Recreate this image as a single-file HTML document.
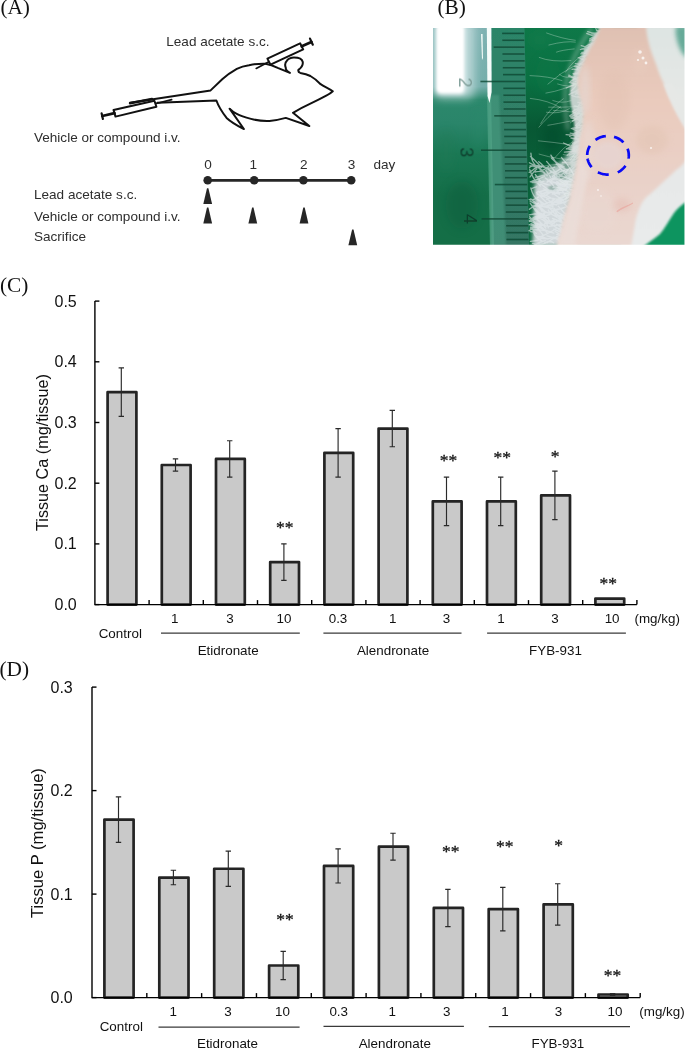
<!DOCTYPE html>
<html><head><meta charset="utf-8"><title>Figure</title>
<style>html,body{margin:0;padding:0;background:#fff}svg{display:block}</style>
</head><body>
<svg width="685" height="1049" viewBox="0 0 685 1049">
<rect width="685" height="1049" fill="#fff"/>
<defs>
<clipPath id="pc"><rect x="433" y="28" width="252" height="217"/></clipPath>
<filter id="b1" x="-30%" y="-30%" width="160%" height="160%"><feGaussianBlur stdDeviation="1"/></filter>
<filter id="b2" x="-30%" y="-30%" width="160%" height="160%"><feGaussianBlur stdDeviation="2"/></filter>
<filter id="b3" x="-30%" y="-30%" width="160%" height="160%"><feGaussianBlur stdDeviation="3"/></filter>
<filter id="b5" x="-30%" y="-30%" width="160%" height="160%"><feGaussianBlur stdDeviation="5"/></filter>
<filter id="b8" x="-30%" y="-30%" width="160%" height="160%"><feGaussianBlur stdDeviation="8"/></filter>
<filter id="b05" x="-30%" y="-30%" width="160%" height="160%"><feGaussianBlur stdDeviation="0.5"/></filter>
<filter id="b07" x="-30%" y="-30%" width="160%" height="160%"><feGaussianBlur stdDeviation="0.7"/></filter>
<filter id="b15" x="-30%" y="-30%" width="160%" height="160%"><feGaussianBlur stdDeviation="1.5"/></filter>
<linearGradient id="gbase" x1="0" y1="0" x2="0" y2="1"><stop offset="0" stop-color="#0e7848"/><stop offset="0.25" stop-color="#0a7042"/><stop offset="0.46" stop-color="#085834"/><stop offset="1" stop-color="#0a6a40"/></linearGradient>
<linearGradient id="gleft" x1="0" y1="0" x2="0" y2="1"><stop offset="0" stop-color="#7fb2b2"/><stop offset="0.27" stop-color="#74aeaa"/><stop offset="0.33" stop-color="#2c886c"/><stop offset="0.44" stop-color="#2a856a"/><stop offset="0.58" stop-color="#1a7854"/><stop offset="0.77" stop-color="#146e48"/><stop offset="1" stop-color="#146e46"/></linearGradient>
<linearGradient id="gstrip" x1="0" y1="0" x2="0" y2="1"><stop offset="0" stop-color="#2c8568"/><stop offset="0.5" stop-color="#317e66"/><stop offset="1" stop-color="#347664"/></linearGradient>
<linearGradient id="tis" x1="0" y1="0" x2="0" y2="1"><stop offset="0" stop-color="#dfc0b2"/><stop offset="0.35" stop-color="#eacbbd"/><stop offset="0.7" stop-color="#e9d1c8"/><stop offset="1" stop-color="#ead8d1"/></linearGradient>
<linearGradient id="rfur" x1="0" y1="0" x2="0" y2="1"><stop offset="0" stop-color="#dde4e2"/><stop offset="0.35" stop-color="#e6e8e6"/><stop offset="0.7" stop-color="#e7e9e9"/><stop offset="1" stop-color="#e9ebeb"/></linearGradient>
</defs>
<g clip-path="url(#pc)">
<rect x="433" y="28" width="252" height="217" fill="url(#gbase)"/>
<ellipse cx="548" cy="75" rx="12" ry="18" fill="#0c7846" opacity="0.4" filter="url(#b5)"/>
<ellipse cx="552" cy="138" rx="10" ry="14" fill="#064a2c" opacity="0.5" filter="url(#b5)"/>
<ellipse cx="540" cy="40" rx="10" ry="8" fill="#158050" opacity="0.4" filter="url(#b5)"/>
<rect x="433" y="28" width="60" height="217" fill="url(#gleft)"/>
<ellipse cx="462" cy="205" rx="16" ry="24" fill="#0c5a3a" opacity="0.4" filter="url(#b5)"/>
<ellipse cx="446" cy="150" rx="8" ry="20" fill="#207a56" opacity="0.4" filter="url(#b5)"/>
<ellipse cx="478" cy="130" rx="6" ry="20" fill="#2c8a6c" opacity="0.4" filter="url(#b5)"/>
<path d="M491.5,28 L524.5,28 L529,245 L491.5,245 Z" fill="url(#gstrip)" filter="url(#b07)"/>
<path d="M489,95 L499,95 L506,245 L491,245 Z" fill="#4a9c82" opacity="0.6" filter="url(#b1)"/>
<path d="M487,95 L491,95 L494,245 L490,245 Z" fill="#58a88c" opacity="0.6" filter="url(#b07)"/>
<rect x="434" y="20" width="40" height="78" rx="6" fill="#c8dfe0" opacity="0.85" filter="url(#b5)"/>
<rect x="436.5" y="24" width="28" height="70" rx="4" fill="#ffffff" filter="url(#b2)"/>
<rect x="437.5" y="26" width="25.5" height="65.5" rx="3" fill="#ffffff" filter="url(#b1)"/>
<path d="M486.8,26 L491.2,26 L491.6,92 L489.5,103 L487.5,96 Z" fill="#f6fcfa" filter="url(#b05)"/>
<path d="M481,34 L482.6,34 L483,58 L482,60 Z" fill="#eef8f5" filter="url(#b05)"/>
<rect x="502.1" y="32.61" width="22.0" height="1.6" fill="#0f4632" opacity="0.78" filter="url(#b07)"/>
<rect x="502.3" y="39.48" width="22.0" height="1.6" fill="#0f4632" opacity="0.78" filter="url(#b07)"/>
<rect x="493.7" y="46.35" width="30.7" height="1.6" fill="#0f4632" opacity="0.78" filter="url(#b07)"/>
<rect x="502.5" y="53.22" width="22.0" height="1.6" fill="#0f4632" opacity="0.78" filter="url(#b07)"/>
<rect x="502.7" y="60.09" width="22.0" height="1.6" fill="#0f4632" opacity="0.78" filter="url(#b07)"/>
<rect x="502.8" y="66.96" width="22.0" height="1.6" fill="#0f4632" opacity="0.78" filter="url(#b07)"/>
<rect x="503.0" y="73.83" width="22.0" height="1.6" fill="#0f4632" opacity="0.78" filter="url(#b07)"/>
<rect x="480.4" y="80.70" width="44.7" height="1.6" fill="#0f4632" opacity="0.78" filter="url(#b07)"/>
<rect x="503.3" y="87.57" width="22.0" height="1.6" fill="#0f4632" opacity="0.78" filter="url(#b07)"/>
<rect x="503.4" y="94.44" width="22.0" height="1.6" fill="#0f4632" opacity="0.78" filter="url(#b07)"/>
<rect x="503.5" y="101.31" width="22.0" height="1.6" fill="#0f4632" opacity="0.78" filter="url(#b07)"/>
<rect x="503.7" y="108.18" width="22.0" height="1.6" fill="#0f4632" opacity="0.78" filter="url(#b07)"/>
<rect x="494.2" y="115.05" width="31.6" height="1.6" fill="#0f4632" opacity="0.78" filter="url(#b07)"/>
<rect x="504.0" y="121.92" width="22.0" height="1.6" fill="#0f4632" opacity="0.78" filter="url(#b07)"/>
<rect x="504.1" y="128.79" width="22.0" height="1.6" fill="#0f4632" opacity="0.78" filter="url(#b07)"/>
<rect x="504.2" y="135.66" width="22.0" height="1.6" fill="#0f4632" opacity="0.78" filter="url(#b07)"/>
<rect x="504.4" y="142.53" width="22.0" height="1.6" fill="#0f4632" opacity="0.78" filter="url(#b07)"/>
<rect x="481.0" y="149.40" width="45.5" height="1.6" fill="#0f4632" opacity="0.78" filter="url(#b07)"/>
<rect x="504.7" y="156.27" width="22.0" height="1.6" fill="#0f4632" opacity="0.78" filter="url(#b07)"/>
<rect x="504.8" y="163.14" width="22.0" height="1.6" fill="#0f4632" opacity="0.78" filter="url(#b07)"/>
<rect x="505.0" y="170.01" width="22.0" height="1.6" fill="#0f4632" opacity="0.78" filter="url(#b07)"/>
<rect x="505.1" y="176.88" width="22.0" height="1.6" fill="#0f4632" opacity="0.78" filter="url(#b07)"/>
<rect x="494.8" y="183.75" width="32.4" height="1.6" fill="#0f4632" opacity="0.78" filter="url(#b07)"/>
<rect x="505.4" y="190.62" width="22.0" height="1.6" fill="#0f4632" opacity="0.78" filter="url(#b07)"/>
<rect x="505.5" y="197.49" width="22.0" height="1.6" fill="#0f4632" opacity="0.78" filter="url(#b07)"/>
<rect x="505.7" y="204.36" width="22.0" height="1.6" fill="#0f4632" opacity="0.78" filter="url(#b07)"/>
<rect x="505.8" y="211.23" width="22.0" height="1.6" fill="#0f4632" opacity="0.78" filter="url(#b07)"/>
<rect x="481.6" y="218.10" width="46.4" height="1.6" fill="#0f4632" opacity="0.78" filter="url(#b07)"/>
<rect x="506.1" y="224.97" width="22.0" height="1.6" fill="#0f4632" opacity="0.78" filter="url(#b07)"/>
<rect x="506.2" y="231.84" width="22.0" height="1.6" fill="#0f4632" opacity="0.78" filter="url(#b07)"/>
<rect x="506.4" y="238.71" width="22.0" height="1.6" fill="#0f4632" opacity="0.78" filter="url(#b07)"/>
<text transform="translate(459,77.5) rotate(90)" font-family="Liberation Sans, Arial, sans-serif" font-size="18" fill="#7a9a94" opacity="0.9" filter="url(#b05)">2</text>
<text transform="translate(460.5,147.3) rotate(90)" font-family="Liberation Sans, Arial, sans-serif" font-size="18" fill="#0c3a2a" opacity="0.9" filter="url(#b05)">3</text>
<text transform="translate(464,214) rotate(90)" font-family="Liberation Sans, Arial, sans-serif" font-size="18" fill="#0c3a2a" opacity="0.9" filter="url(#b05)">4</text>
<path d="M536,181 C542,171 550,168 558,164 C566,159 573,150 578,137 L592,137 L580,245 L533,245 C535,232 533,216 536,202 C534,194 534,187 536,181 Z" fill="#d3dadc" opacity="0.86" filter="url(#b2)"/>
<path d="M536,186 C546,176 560,176 570,180 L562,245 L534,245 Z" fill="#d0d7da" filter="url(#b2)"/>
<ellipse cx="562" cy="176" rx="6" ry="3.5" fill="#2f6e52" opacity="0.5" filter="url(#b1)"/>
<ellipse cx="553" cy="188" rx="5" ry="2.5" fill="#2f6e52" opacity="0.35" filter="url(#b1)"/>
<ellipse cx="567" cy="166" rx="4" ry="3.5" fill="#2f6e52" opacity="0.45" filter="url(#b1)"/>
<ellipse cx="546" cy="174" rx="5" ry="2.5" fill="#2f6e52" opacity="0.3" filter="url(#b1)"/>
<ellipse cx="538" cy="166" rx="5" ry="3" fill="#2f6e52" opacity="0.4" filter="url(#b1)"/>
<path d="M600,28 C592,38 584,50 577,64 C570,80 568,96 572,110 C575,124 576,136 570,154 L592,150 L602,60 L614,28 Z" fill="#d8dcdb" opacity="0.9" filter="url(#b1)"/>
<path d="M592,28 C580,44 570,62 566,84 C564,100 566,116 568,130" stroke="#e8f0ea" stroke-width="4" fill="none" opacity="0.3" filter="url(#b2)"/>
<path d="M578.0,80.4Q573.5,77.8 568.6,76.2M598.4,36.4Q594.7,35.0 594.4,36.8M584.1,97.6Q581.6,98.8 578.2,96.5M583.4,122.7Q577.9,118.5 569.5,115.9M589.8,49.7Q586.0,52.0 584.8,53.7M581.6,133.3Q574.7,129.7 571.3,128.5M580.9,140.3Q576.5,141.1 572.4,143.4M580.0,159.8Q575.9,162.8 571.7,162.7M579.3,148.7Q571.1,146.9 563.5,143.0M591.0,51.0Q590.1,52.2 587.1,52.9M575.5,173.7Q569.0,176.1 561.8,178.8M579.8,167.6Q572.8,171.1 569.3,172.9M584.5,134.7Q576.9,134.6 570.2,133.2M600.7,31.2Q596.7,31.5 596.2,29.6M591.7,47.1Q587.5,49.3 586.7,51.9M586.3,118.0Q580.5,122.3 576.5,127.3M582.1,86.3Q574.4,83.3 569.3,82.4M584.4,64.9Q577.8,64.0 575.3,63.7M580.9,88.1Q575.0,91.8 569.1,94.6M579.1,139.6Q574.4,145.4 566.6,148.8M580.8,92.1Q576.5,91.5 575.7,94.4M584.5,60.7Q579.3,57.8 578.2,57.7M594.5,42.6Q593.5,42.6 591.7,45.4M582.7,68.1Q580.6,68.9 575.8,65.7M583.3,104.5Q580.0,102.5 577.9,102.4M576.2,165.7Q574.3,166.7 572.2,170.6M582.0,117.0Q580.3,122.0 575.7,125.4M582.3,69.7Q580.1,72.4 577.7,73.0M578.1,81.4Q576.0,87.3 571.1,90.9M579.4,163.9Q574.6,163.1 571.0,166.0M599.4,32.0Q598.8,33.1 594.6,34.6M576.8,184.2Q566.5,183.3 558.4,184.5M585.7,58.6Q583.9,61.9 579.4,65.3M583.4,135.7Q582.1,138.2 577.6,138.5M579.9,152.3Q576.1,155.8 573.7,157.0M572.6,190.2Q569.9,193.3 565.3,199.1M591.4,46.7Q585.7,51.4 582.9,53.5M573.7,191.6Q566.9,191.3 563.2,194.8M573.9,190.0Q569.4,196.5 565.4,200.0M576.5,165.3Q571.0,165.2 567.6,164.5M582.7,69.4Q580.3,71.2 579.0,73.3M585.8,123.8Q582.5,127.5 579.3,130.9M581.7,113.8Q575.1,113.8 572.5,111.4M589.1,54.5Q583.7,56.0 579.7,57.4M585.9,119.0Q581.9,119.0 580.0,120.9M579.6,156.1Q576.2,159.3 569.5,163.1M583.0,128.7Q578.1,131.5 573.5,134.0M585.7,106.4Q583.3,109.6 577.3,114.7M586.6,119.7Q578.5,117.3 573.4,115.3M596.0,38.4Q595.2,41.0 592.2,40.4M591.9,51.4Q589.0,51.9 583.1,48.6M587.5,62.5Q585.8,64.6 580.2,64.0M589.9,52.6Q584.6,51.8 581.8,52.4M578.1,147.5Q570.2,147.6 566.3,149.0M582.7,130.7Q582.1,135.0 579.1,135.6M593.8,43.1Q591.2,42.8 590.5,45.5M584.4,97.2Q576.8,98.0 571.9,95.5M585.1,121.6Q583.1,120.0 579.5,119.0M599.5,38.4Q594.5,42.5 592.8,43.6M599.5,37.6Q596.2,39.2 592.5,37.4M580.8,70.8Q574.9,68.7 572.1,69.3M597.4,35.3Q595.5,34.2 591.5,34.8M582.2,110.0Q577.5,106.1 574.7,106.0M580.6,149.4Q578.4,148.5 572.8,150.8M577.9,164.0Q573.0,167.9 568.9,171.8M583.5,141.6Q580.8,145.2 576.4,147.7M581.0,94.2Q576.8,94.3 576.0,92.5M581.6,68.7Q581.2,71.0 577.9,72.0M580.6,73.2Q575.9,73.5 573.8,74.3M585.2,70.0Q578.1,73.7 573.1,73.6M579.8,77.9Q577.5,78.0 575.4,78.1M586.8,59.4Q583.1,58.7 582.7,58.8M597.1,34.0Q594.6,33.6 591.4,33.0M580.8,152.3Q575.4,156.6 570.8,162.2M571.0,192.4Q562.0,197.0 556.6,199.0M576.5,176.5Q569.2,181.4 564.7,186.1M585.5,110.7Q580.9,116.5 575.5,119.2M582.2,140.8Q577.1,138.4 575.0,137.1M596.6,43.1Q593.4,45.4 589.2,46.3M581.2,108.3Q575.8,112.0 570.4,115.4M579.5,136.7Q571.1,134.8 566.1,134.7M578.9,148.7Q574.6,153.9 570.4,160.0M584.5,106.6Q579.2,107.3 572.9,111.4M590.2,50.2Q585.5,47.9 580.4,49.5M597.0,36.7Q593.9,38.0 589.4,40.9M583.8,112.7Q580.8,109.8 574.7,109.4M575.1,191.3Q573.1,193.7 568.6,192.3M582.0,101.8Q578.7,104.8 577.6,107.1M592.0,49.2Q587.9,47.4 581.2,45.6M577.1,175.7Q573.9,177.0 570.9,182.2M602.2,28.5Q597.4,27.6 595.5,28.0M581.9,79.0Q581.4,78.8 578.2,81.5M575.8,182.4Q566.5,181.2 558.3,180.8M572.7,194.8Q566.2,193.6 561.6,196.0M596.9,42.6Q593.9,44.0 593.0,47.2M582.4,111.8Q581.2,116.5 576.9,118.6M584.5,131.9Q578.0,132.3 569.6,136.3M580.1,149.2Q572.7,150.4 567.1,155.2M572.8,182.5Q565.9,183.4 560.6,182.3M571.8,190.9Q564.6,190.0 557.0,189.8M588.0,53.6Q586.1,54.6 584.1,57.8M577.9,179.0Q571.0,175.5 566.7,175.3M577.6,83.5Q574.5,84.6 570.9,82.5M579.6,152.2Q574.0,152.9 569.4,154.8M596.9,36.9Q591.8,35.7 586.7,33.4M575.4,171.5Q570.4,170.6 566.1,170.1M575.5,187.1Q565.9,183.8 560.1,178.9M575.6,177.2Q569.4,175.5 564.0,170.4M579.8,165.2Q569.5,162.4 562.4,162.5M585.0,113.6Q579.3,118.5 572.5,121.2M583.5,103.1Q580.3,106.3 579.3,106.2M581.1,134.4Q578.3,134.7 574.3,133.4M592.3,44.2Q588.1,44.4 584.9,46.8M580.8,126.8Q578.5,128.0 572.4,128.1M576.0,175.1Q573.4,175.2 567.1,173.7M578.2,77.6Q574.0,78.6 570.4,81.6M583.6,138.1Q579.4,136.0 576.5,134.5M579.7,140.7Q573.7,143.4 567.6,148.5M572.3,189.8Q562.9,189.4 555.6,186.8M583.5,75.4Q578.2,74.0 575.1,73.3M583.8,137.8Q579.1,139.9 576.7,138.2M589.6,49.3Q589.0,50.9 585.2,49.5M582.8,149.3Q573.4,150.8 566.5,148.7M577.7,151.6Q570.5,151.2 564.4,152.1M587.0,53.9Q585.7,52.4 580.8,53.9M572.0,188.9Q569.0,192.1 563.5,195.9M598.8,35.1Q595.5,36.9 594.6,39.8M573.4,177.4Q570.1,179.1 564.6,184.5M597.8,33.0Q593.7,33.9 587.7,31.6M578.4,83.0Q571.3,86.4 566.2,88.0M579.0,79.1Q578.9,80.9 575.3,81.6M571.8,185.3Q569.0,187.9 562.6,187.0M579.9,91.1Q577.3,90.7 571.4,92.9M579.9,161.2Q574.0,165.1 567.2,170.4M579.3,79.6Q572.9,78.4 568.8,75.1M581.5,67.3Q578.7,69.9 577.2,68.6M578.6,175.1Q572.7,173.2 569.9,171.4M580.5,145.4Q576.8,146.5 572.2,146.2M581.8,151.9Q576.8,148.8 569.2,147.4M583.6,120.9Q576.3,118.5 571.0,118.0M592.8,51.2Q588.1,53.0 584.3,50.9M582.5,111.2Q578.6,112.4 570.7,116.9M585.1,105.9Q578.8,110.0 576.2,115.7M592.3,45.4Q588.6,46.8 581.5,49.2M576.5,172.1Q574.5,173.3 569.0,177.6M584.0,125.9Q578.8,124.8 576.4,126.1M583.8,68.6Q577.1,66.8 574.2,66.4M579.7,140.0Q576.5,139.2 570.9,138.0M596.0,37.1Q593.3,36.4 589.6,39.0M591.0,53.0Q586.6,54.4 583.8,52.2" stroke="#dde3e1" stroke-width="1.3" fill="none" opacity="0.62" stroke-linecap="round" filter="url(#b05)"/>
<path d="M569.4,108.6Q560.8,114.5 546.5,112.3M570.9,60.6Q551.2,62.3 539.3,57.5M572.7,141.6Q563.3,147.1 554.6,157.9M560.4,106.7Q546.4,117.9 538.9,127.2M571.1,100.6Q562.1,104.0 552.8,100.5M563.3,98.8Q549.6,108.2 540.7,123.5M588.3,161.8Q579.2,157.3 563.2,154.5M587.1,115.6Q572.6,110.8 553.6,110.5M572.1,145.0Q553.0,142.1 538.3,140.8M575.5,84.9Q568.4,87.6 557.7,84.0M561.2,108.1Q548.5,100.2 530.3,98.4M578.0,106.5Q562.6,107.5 548.6,107.2M572.8,120.6Q556.5,123.9 547.9,125.3M574.7,65.6Q560.9,72.3 547.9,84.1M574.2,48.9Q562.1,50.0 556.5,52.1M575.3,40.3Q562.8,38.9 546.6,33.0M575.3,42.1Q565.7,40.6 548.9,45.0M585.7,164.5Q570.6,177.9 560.3,183.7M574.8,159.4Q559.2,160.2 539.1,154.1M562.0,80.6Q549.1,76.3 530.0,75.6M584.5,53.7Q572.6,61.1 565.5,72.2M575.2,76.5Q564.6,79.0 559.5,74.5M580.4,151.4Q569.6,157.1 564.9,162.2M579.1,81.8Q563.1,90.5 545.9,93.1M563.1,164.1Q550.9,164.2 533.9,168.0M589.7,110.1Q579.5,113.9 570.3,122.9" stroke="#d8eae0" stroke-width="0.9" fill="none" opacity="0.38" stroke-linecap="round"/>
<path d="M567.2,169.9Q560.2,167.1 551.5,158.4M560.6,219.1Q554.7,211.6 554.4,208.4M561.9,200.6Q552.8,202.2 548.1,207.0M563.4,167.8Q557.5,165.1 556.2,164.2M545.4,212.7Q540.0,207.2 533.1,202.1M541.7,240.9Q535.3,237.7 533.7,232.7M572.6,228.6Q564.1,225.5 561.4,220.8M559.6,194.0Q554.1,192.8 543.4,188.8M546.4,238.3Q541.6,236.0 537.9,236.9M538.5,228.3Q537.0,225.6 530.4,227.2M544.4,214.6Q538.7,212.8 529.3,214.9M549.0,190.0Q546.7,193.1 541.1,193.6M536.3,233.6Q533.1,229.4 530.5,228.5M540.4,184.6Q538.2,183.7 532.9,180.6M571.5,222.9Q565.3,223.9 559.9,221.4M558.0,187.2Q549.1,194.0 543.5,196.1M536.6,186.8Q535.2,186.8 530.9,188.9M573.0,192.3Q568.7,195.9 562.8,197.3M563.9,244.3Q558.3,248.9 550.2,249.3M554.4,224.0Q545.8,220.6 540.6,215.8M539.3,238.9Q534.2,237.2 533.9,230.4M550.5,177.3Q549.3,174.7 545.8,170.4M565.3,224.9Q560.0,226.5 556.4,224.3M570.4,237.3Q568.8,241.7 562.2,240.7M540.5,182.5Q540.0,180.3 535.3,174.5M562.6,232.0Q553.1,225.0 548.5,222.9M567.8,182.4Q559.1,178.8 556.1,178.2M547.9,223.3Q544.9,220.0 536.4,216.8M571.8,215.5Q567.4,215.6 563.9,212.5M550.6,222.4Q546.7,215.0 538.6,212.5M570.4,179.6Q569.0,179.9 564.4,174.4M536.2,205.3Q532.7,206.4 529.4,209.3M570.9,186.8Q560.3,182.3 553.2,175.3M556.9,174.8Q553.5,169.3 546.6,161.4M569.1,216.2Q562.4,216.2 557.0,211.4M539.6,237.1Q535.0,236.8 533.3,231.7M557.0,196.3Q548.8,190.3 541.0,183.9M567.7,226.2Q559.0,220.3 552.5,218.5M571.4,219.0Q564.4,214.2 558.2,206.2M560.3,176.1Q552.1,177.2 547.1,182.0M548.7,222.3Q539.6,213.7 534.7,208.2M549.7,207.8Q543.4,208.2 540.7,202.8M566.6,174.1Q559.1,168.8 552.9,157.6M569.4,224.7Q564.9,217.6 558.8,215.4M544.7,197.1Q542.5,196.6 536.8,193.9M557.0,216.6Q552.7,210.8 547.1,206.1M567.1,238.6Q561.6,237.5 553.2,237.3M545.6,223.8Q540.1,227.2 530.4,228.5M562.9,202.3Q554.3,201.8 550.6,202.2M568.9,223.1Q561.6,217.8 555.3,213.1M562.1,198.7Q552.5,203.8 546.7,207.0M568.7,197.1Q559.7,201.4 556.2,205.1M542.8,228.5Q536.4,226.8 529.2,224.6M566.1,207.0Q558.2,209.2 550.1,212.4M575.8,182.8Q569.3,177.1 559.6,176.0M577.3,194.4Q573.1,189.1 570.1,189.5M553.6,199.6Q544.2,194.0 537.7,191.7M567.1,241.2Q563.0,235.7 555.2,231.5M544.9,176.3Q537.4,179.5 530.3,181.8M545.5,243.1Q540.9,245.1 532.5,243.3M555.7,189.5Q552.4,182.8 545.2,177.9M571.7,187.4Q565.9,181.6 561.0,179.6M536.1,223.7Q532.7,219.7 529.6,216.6M562.8,218.7Q559.1,219.2 551.2,224.9M570.8,238.5Q566.2,232.4 557.7,224.7M536.6,166.9Q530.7,165.2 529.5,167.8M545.8,228.1Q543.7,225.3 536.8,218.9M543.1,237.3Q539.1,241.0 530.3,241.3M571.2,181.8Q564.0,179.9 553.8,178.8M573.1,210.4Q566.3,206.8 563.8,203.2M538.5,203.4Q534.5,204.4 530.0,201.1M536.3,233.3Q535.3,231.7 530.3,231.6M553.6,242.8Q549.9,240.1 544.5,242.9M561.6,220.6Q555.3,215.6 543.1,210.5M556.4,237.8Q552.9,237.4 548.0,239.0M572.2,195.3Q566.6,192.3 557.8,192.7M554.3,199.8Q545.6,204.3 539.3,204.8M553.0,206.3Q550.0,206.0 541.4,203.9M569.3,192.5Q564.5,190.0 558.7,186.0M568.9,169.2Q560.9,170.2 552.4,176.6M548.6,166.5Q544.5,169.9 539.2,171.4M569.1,238.8Q561.6,239.8 552.6,238.4M561.0,220.5Q555.3,222.4 550.1,221.1M540.3,180.5Q538.6,182.4 532.0,182.5M551.5,231.8Q540.6,229.5 532.6,229.6M553.7,191.5Q549.3,188.9 539.7,191.7M559.8,169.2Q555.7,173.1 550.6,172.0M554.8,167.1Q550.7,169.6 541.4,166.2M556.0,199.0Q549.5,197.0 546.5,199.2M536.7,166.4Q531.3,162.0 530.9,153.2M541.4,167.4Q534.1,159.3 530.5,156.6M568.5,223.1Q556.2,225.5 548.8,226.3M565.8,202.8Q560.0,198.0 548.7,190.5M536.5,167.2Q531.7,171.1 529.2,172.4M543.0,234.9Q537.9,229.3 534.3,222.8M554.4,220.2Q548.8,222.4 544.8,222.9M562.4,199.4Q558.6,202.8 549.5,202.8M559.8,189.4Q557.3,193.7 552.3,194.1M549.9,214.5Q540.3,216.8 529.4,221.5M554.0,237.0Q548.0,240.0 540.8,238.2M569.9,188.7Q566.2,186.9 563.3,184.1M570.3,237.0Q568.1,240.6 562.2,239.8M560.0,187.9Q551.6,193.2 540.9,193.6M550.6,172.8Q541.2,176.4 535.4,177.1M575.1,184.7Q566.7,183.6 558.7,186.0M546.7,226.1Q539.8,225.0 529.2,220.7M545.8,212.4Q537.8,217.1 530.0,220.8M543.9,181.4Q537.9,182.4 533.5,182.6M552.9,207.4Q553.1,202.5 547.2,199.0M540.5,216.6Q534.4,210.0 530.2,203.1M536.9,168.7Q533.8,171.4 530.0,177.0M568.7,200.1Q560.3,205.2 548.0,204.8M546.7,169.0Q540.2,162.7 538.7,161.7M559.4,235.7Q555.6,236.6 546.9,242.9M561.1,197.8Q555.5,200.7 552.8,202.8M562.9,242.5Q554.6,237.1 546.9,235.8M576.6,245.3Q572.0,239.8 570.4,236.1M573.9,238.4Q570.1,231.5 562.8,222.1M563.2,244.8Q561.7,244.3 557.1,238.5M564.4,189.9Q554.1,190.5 548.5,193.3M546.8,175.9Q539.9,168.7 536.2,165.7M564.5,167.0Q554.9,163.6 550.9,155.1M545.3,240.7Q537.0,242.5 529.3,249.0M575.0,233.4Q566.0,232.9 558.9,228.5M556.1,216.3Q549.5,214.4 548.3,210.0M559.2,177.6Q550.4,169.8 542.6,166.1M547.4,233.2Q542.8,227.7 538.3,224.3M573.9,175.1Q570.0,167.3 561.4,157.4M544.9,204.2Q538.2,199.9 535.1,197.2M577.6,245.8Q569.7,240.1 564.4,229.6M538.4,224.1Q535.6,226.5 529.0,230.7M541.9,166.2Q535.2,166.9 529.4,162.8M545.2,211.7Q543.2,209.6 537.9,204.9M544.3,172.3Q539.6,170.8 535.0,172.0M544.7,215.0Q535.6,215.0 530.2,220.3M566.8,198.6Q563.4,190.3 556.3,183.9M571.4,235.2Q569.9,228.7 563.6,222.4M572.6,187.3Q566.8,187.0 562.6,190.8M551.6,213.6Q547.3,212.9 543.7,212.1M541.1,223.2Q536.6,226.1 529.6,230.5M567.6,170.9Q558.8,176.1 550.2,181.2M558.3,209.0Q553.1,209.3 551.2,213.4M540.3,186.0Q532.6,179.1 529.8,169.7M544.2,167.4Q538.3,164.3 530.0,165.9M572.5,223.4Q569.6,220.1 566.8,216.9M547.7,175.8Q543.6,172.9 538.4,165.8M542.2,211.8Q539.0,204.7 530.7,198.9M553.7,233.2Q549.2,231.9 539.5,227.3M550.2,185.2Q547.1,185.0 538.2,181.2M574.3,231.2Q568.7,225.8 562.9,214.9M575.2,185.9Q567.5,186.1 561.3,186.0M538.9,200.6Q532.8,197.1 530.9,187.9M568.6,241.0Q562.9,245.7 552.5,245.9M537.4,217.3Q533.7,220.3 529.5,218.2M562.1,186.0Q557.6,182.3 547.6,181.1M548.8,217.8Q546.7,217.6 539.2,217.2M547.3,203.3Q539.6,195.5 536.5,192.2M548.3,198.5Q541.0,195.2 538.7,191.3M571.3,214.8Q561.5,216.3 555.3,215.3M555.4,209.8Q546.2,206.1 539.4,205.4M545.3,207.0Q535.7,205.6 532.0,206.0M572.2,185.1Q563.2,186.2 556.8,181.4M548.4,227.8Q547.6,223.3 542.4,219.5M538.6,197.0Q532.3,201.0 529.2,199.5M567.0,178.4Q562.4,176.2 555.6,172.7M571.7,231.7Q565.7,234.6 556.7,234.4M556.0,228.8Q545.7,235.1 540.0,236.9M536.2,227.3Q534.0,225.0 530.9,223.7M568.9,235.8Q561.1,232.2 553.8,229.1M566.4,189.4Q559.0,187.5 553.0,187.7" stroke="#e6ecee" stroke-width="1.3" fill="none" opacity="0.6" stroke-linecap="round" filter="url(#b05)"/>
<path d="M636,22 L692,22 L692,250 L620,250 C624,225 628,210 636,196 C647,186 660,176 670,164 L678,150 L678,128 C669,112 661,95 655,80 C649,65 643,48 639,36 Z" fill="url(#rfur)" filter="url(#b1)"/>
<path d="M601,26 L646,26 C647,40 651,52 655.6,63 C658,70 660,76 663,82 C666,90 668,96 670.7,101 C673,107 676,112 678,116 L686,130 L686,160 C682,166 679,168 676,170 C670,176 665,180 661,184 C656,189 650,194 646,197.6 C642,202 640,206 638.5,211 C636,217 635,222 634.7,226 L631,247 L557,247 C558,240 559,237 561,233 C562,226 563.5,220 565,214 C567,207 569,201 570.7,195 C572,188 573.5,182 574.5,176 C576,169 577,163 578,157 C579,150 580,144 580,138 C582,131 583,125 583,119 C584,112 583,106 581.6,101 C579,94 578,88 577.8,82 C578,75 580,69 583.5,63 C586,56 589,50 593,44 C596,38 598,33 601,26 Z" fill="url(#tis)" filter="url(#b15)"/>
<ellipse cx="614" cy="100" rx="16" ry="30" fill="#e2c2b2" opacity="0.4" filter="url(#b3)"/>
<ellipse cx="598" cy="212" rx="18" ry="22" fill="#e9d8d2" opacity="0.5" filter="url(#b3)"/>
<ellipse cx="622" cy="205" rx="9" ry="7" fill="#e3b5ac" opacity="0.4" filter="url(#b3)"/>
<ellipse cx="640" cy="62" rx="8" ry="14" fill="#e8ccbe" opacity="0.4" filter="url(#b3)"/>
<ellipse cx="652" cy="140" rx="16" ry="14" fill="#e2c4b2" opacity="0.5" filter="url(#b3)"/>
<ellipse cx="588" cy="150" rx="7" ry="30" fill="#e8dad5" opacity="0.6" filter="url(#b3)"/>
<ellipse cx="585" cy="90" rx="5" ry="25" fill="#e4dad6" opacity="0.6" filter="url(#b3)"/>
<path d="M580,150 C577,170 572,195 566,215 C563,228 560,238 558,246 L575,246 C578,225 584,200 588,175 Z" fill="#ebe0dc" opacity="0.7" filter="url(#b2)"/>
<circle cx="640" cy="52" r="1.8" fill="#fff" opacity="0.75" filter="url(#b05)"/>
<circle cx="643" cy="58" r="1.5" fill="#fff" opacity="0.75" filter="url(#b05)"/>
<circle cx="646" cy="63" r="1.4" fill="#fff" opacity="0.75" filter="url(#b05)"/>
<circle cx="638" cy="60" r="1.1" fill="#fff" opacity="0.75" filter="url(#b05)"/>
<circle cx="651" cy="148" r="1.1" fill="#fff" opacity="0.75" filter="url(#b05)"/>
<circle cx="598" cy="190" r="0.9" fill="#fff" opacity="0.75" filter="url(#b05)"/>
<circle cx="601" cy="196" r="0.8" fill="#fff" opacity="0.75" filter="url(#b05)"/>
<path d="M617,211 C622,207 628,206 633,203 C628,206.5 622,208 617,212 Z" stroke="#ea9f98" stroke-width="0.8" fill="#ea9f98" opacity="0.6" filter="url(#b05)"/>
<ellipse cx="608" cy="155.5" rx="15" ry="14" fill="#e6d5d3" opacity="0.75" filter="url(#b2)"/>
<path d="M686,128 C676,112 670,100 664,84 L672,84 L686,110 Z" fill="#e6e8e6" filter="url(#b1)"/>
<path d="M686,202 C681,205 677,209 674,213 C669,220 665,228 660,234 C654,239 649,242 643,247 L686,247 Z" fill="#0c945e" filter="url(#b1)"/>
<path d="M676,26 L688,26 L688,58 C683,56 680,50 678,44 C676,38 675,32 676,26 Z" fill="#4a9c86" opacity="0.8" filter="url(#b2)"/>
<polyline points="595.48,139.89 596.40,139.28 597.35,138.72 598.33,138.21 599.34,137.75 600.38,137.34 601.43,136.99 602.51,136.68 603.60,136.44 604.71,136.24 605.83,136.11" fill="none" stroke="#0a0af5" stroke-width="2.7"/>
<polyline points="614.08,136.84 615.15,137.18 616.19,137.56 617.22,138.00 618.21,138.49 619.18,139.02 620.11,139.61 621.01,140.24 621.86,140.91 622.68,141.63 623.46,142.39" fill="none" stroke="#0a0af5" stroke-width="2.7"/>
<polyline points="627.55,148.70 627.89,149.66 628.18,150.63 628.42,151.62 628.60,152.61 628.72,153.62 628.79,154.63 628.80,155.64 628.75,156.65 628.64,157.65 628.48,158.65" fill="none" stroke="#0a0af5" stroke-width="2.7"/>
<polyline points="625.44,165.81 624.85,166.62 624.21,167.39 623.53,168.14 622.81,168.85 622.05,169.53 621.26,170.17 620.43,170.77 619.57,171.34 618.68,171.86 617.77,172.34" fill="none" stroke="#0a0af5" stroke-width="2.7"/>
<polyline points="608.73,174.59 607.60,174.60 606.48,174.55 605.36,174.44 604.25,174.28 603.14,174.07 602.06,173.80 600.99,173.47 599.94,173.09 598.91,172.66 597.92,172.18" fill="none" stroke="#0a0af5" stroke-width="2.7"/>
<polyline points="591.61,167.18 591.00,166.43 590.44,165.64 589.91,164.83 589.43,164.00 589.00,163.15 588.61,162.28 588.26,161.39 587.97,160.49 587.72,159.58 587.52,158.65" fill="none" stroke="#0a0af5" stroke-width="2.7"/>
<polyline points="587.20,154.96 587.25,154.02 587.34,153.08 587.48,152.15 587.67,151.22 587.91,150.30 588.20,149.40 588.53,148.51 588.91,147.64 589.34,146.78 589.81,145.94" fill="none" stroke="#0a0af5" stroke-width="2.7"/>
</g>
<rect x="684.5" y="27" width="1" height="219" fill="#fff"/>
<rect x="432" y="244.75" width="254" height="1" fill="#fff"/>
<text x="0.4" y="14.4" font-family="Liberation Serif, Times New Roman, serif" font-size="21.3" fill="#111">(A)</text>
<text x="437.5" y="14.3" font-family="Liberation Serif, Times New Roman, serif" font-size="21.3" fill="#111">(B)</text>
<text x="0" y="292" font-family="Liberation Serif, Times New Roman, serif" font-size="21.3" fill="#111">(C)</text>
<text x="-0.5" y="676" font-family="Liberation Serif, Times New Roman, serif" font-size="21.3" fill="#111">(D)</text>
<text x="166.3" y="46.3" font-family="Liberation Sans, Arial, sans-serif" font-size="13.55" fill="#2e2e2e">Lead acetate s.c.</text>
<text x="34" y="142" font-family="Liberation Sans, Arial, sans-serif" font-size="13.55" fill="#2e2e2e">Vehicle or compound i.v.</text>
<text x="34" y="199" font-family="Liberation Sans, Arial, sans-serif" font-size="13.55" fill="#2e2e2e">Lead acetate s.c.</text>
<text x="34" y="221" font-family="Liberation Sans, Arial, sans-serif" font-size="13.55" fill="#2e2e2e">Vehicle or compound i.v.</text>
<text x="34" y="240.5" font-family="Liberation Sans, Arial, sans-serif" font-size="13.55" fill="#2e2e2e">Sacrifice</text>
<path d="M130,102.7 L210.6,90.4 L222.5,79 C228,74 232,71.5 236.8,68.8 C241,66.8 245,65.8 249,65.2 C255,64 260,63.5 265.4,63.7 C270,64.5 274,66 277.7,67.8 L289.9,72.9 C287,71 285.5,69.5 285.8,67.8 C284.5,64.5 285,62.5 286.9,60.7 C288.5,58.5 291,57.6 294,57.6 C298.5,57.6 302,59 302.7,61.8 C303.3,64.8 301.3,67.6 298.4,69.9 C298,71.5 299,72.5 300.3,72.9 C304,73.5 307.5,74.5 310.4,76 C314,78 317.5,81 320.6,84.2 C324,86.5 329,88.8 332.8,91.3 C331,93 329,94.3 326.7,95.4 C321,98.5 316,101 310.4,103.6 C304,106.5 298.5,109.5 293,112.8 L309.3,126 L285.8,117.9 C280,119.5 275,120.5 269.5,121 C263,121.3 257,120.5 251,118.9 C246,117.5 241,116 236.8,113.8 C234,112.5 231.5,110.8 229.6,108.7 L243.9,129 C237,125.5 231,122 226.6,117.9 C222,112 218.5,106.5 216.4,100.5 L157.4,102.7" fill="none" stroke="#111" stroke-width="2" stroke-linejoin="round" stroke-linecap="round"/>
<g fill="#fff" stroke="#111" stroke-width="2" stroke-linejoin="round" stroke-linecap="round">
<path d="M268.9,61.7 L256.2,68.4" fill="none" stroke-width="1.7"/>
<path d="M267.4,58.6 L300.1,43.3 L303.2,49.4 L270.5,64.7 Z"/>
<path d="M301.8,46.3 L311.4,41.9" fill="none" stroke-width="2.8"/>
<path d="M310,38.6 L312.8,44.7" fill="none" stroke-width="2.2"/>
<path d="M155.4,103.7 L171.7,99.6" fill="none" stroke-width="1.6"/>
<path d="M130,103.3 L152,99" fill="none" stroke-width="2.4"/>
<path d="M113.5,109.9 L154.4,100.7 L156.4,106.8 L115.5,116.6 Z"/>
<path d="M114.5,113.2 L102.3,116" fill="none" stroke-width="2.8"/>
<path d="M101.6,113.3 L102.9,119" fill="none" stroke-width="2.2"/>
</g>
<line x1="207.7" y1="180.3" x2="351.2" y2="180.3" stroke="#262626" stroke-width="2.8"/>
<circle cx="207.7" cy="180.3" r="4.3" fill="#262626"/>
<text x="208.0" y="169" text-anchor="middle" font-family="Liberation Sans, Arial, sans-serif" font-size="13.6" fill="#2e2e2e">0</text>
<circle cx="254.2" cy="180.3" r="4.3" fill="#262626"/>
<text x="253.2" y="169" text-anchor="middle" font-family="Liberation Sans, Arial, sans-serif" font-size="13.6" fill="#2e2e2e">1</text>
<circle cx="303.4" cy="180.3" r="4.3" fill="#262626"/>
<text x="303.7" y="169" text-anchor="middle" font-family="Liberation Sans, Arial, sans-serif" font-size="13.6" fill="#2e2e2e">2</text>
<circle cx="351.2" cy="180.3" r="4.3" fill="#262626"/>
<text x="351.5" y="169" text-anchor="middle" font-family="Liberation Sans, Arial, sans-serif" font-size="13.6" fill="#2e2e2e">3</text>
<text x="373.5" y="169" font-family="Liberation Sans, Arial, sans-serif" font-size="13.55" fill="#2e2e2e">day</text>
<path d="M207.0,188.2 L208.39999999999998,188.2 L212.1,204 L203.29999999999998,204 Z" fill="#262626"/>
<path d="M207.0,207.6 L208.39999999999998,207.6 L212.1,223.6 L203.29999999999998,223.6 Z" fill="#262626"/>
<path d="M252.10000000000002,207.6 L253.5,207.6 L257.2,223.6 L248.4,223.6 Z" fill="#262626"/>
<path d="M303.3,207.6 L304.7,207.6 L308.4,223.6 L299.6,223.6 Z" fill="#262626"/>
<path d="M352.1,229.4 L353.5,229.4 L357.2,245.2 L348.40000000000003,245.2 Z" fill="#262626"/>
<rect x="107.60" y="392.15" width="28.80" height="212.45" fill="#c9c9c9" stroke="#242424" stroke-width="2.7" stroke-linejoin="round"/>
<path d="M121.30,367.87 V416.43 M118.60,367.87 H124.00 M118.60,416.43 H124.00" stroke="#2a2a2a" stroke-width="1.15" fill="none"/>
<rect x="161.80" y="464.99" width="28.80" height="139.61" fill="#c9c9c9" stroke="#242424" stroke-width="2.7" stroke-linejoin="round"/>
<path d="M175.50,458.92 V471.06 M172.80,458.92 H178.20 M172.80,471.06 H178.20" stroke="#2a2a2a" stroke-width="1.15" fill="none"/>
<rect x="216.00" y="458.92" width="28.80" height="145.68" fill="#c9c9c9" stroke="#242424" stroke-width="2.7" stroke-linejoin="round"/>
<path d="M229.70,440.71 V477.13 M227.00,440.71 H232.40 M227.00,477.13 H232.40" stroke="#2a2a2a" stroke-width="1.15" fill="none"/>
<rect x="270.20" y="562.11" width="28.80" height="42.49" fill="#c9c9c9" stroke="#242424" stroke-width="2.7" stroke-linejoin="round"/>
<path d="M283.90,543.90 V580.32 M281.20,543.90 H286.60 M281.20,580.32 H286.60" stroke="#2a2a2a" stroke-width="1.15" fill="none"/>
<rect x="324.40" y="452.85" width="28.80" height="151.75" fill="#c9c9c9" stroke="#242424" stroke-width="2.7" stroke-linejoin="round"/>
<path d="M338.10,428.57 V477.13 M335.40,428.57 H340.80 M335.40,477.13 H340.80" stroke="#2a2a2a" stroke-width="1.15" fill="none"/>
<rect x="378.60" y="428.57" width="28.80" height="176.03" fill="#c9c9c9" stroke="#242424" stroke-width="2.7" stroke-linejoin="round"/>
<path d="M392.30,410.36 V446.78 M389.60,410.36 H395.00 M389.60,446.78 H395.00" stroke="#2a2a2a" stroke-width="1.15" fill="none"/>
<rect x="432.80" y="501.41" width="28.80" height="103.19" fill="#c9c9c9" stroke="#242424" stroke-width="2.7" stroke-linejoin="round"/>
<path d="M446.50,477.13 V525.69 M443.80,477.13 H449.20 M443.80,525.69 H449.20" stroke="#2a2a2a" stroke-width="1.15" fill="none"/>
<rect x="487.00" y="501.41" width="28.80" height="103.19" fill="#c9c9c9" stroke="#242424" stroke-width="2.7" stroke-linejoin="round"/>
<path d="M500.70,477.13 V525.69 M498.00,477.13 H503.40 M498.00,525.69 H503.40" stroke="#2a2a2a" stroke-width="1.15" fill="none"/>
<rect x="541.20" y="495.34" width="28.80" height="109.26" fill="#c9c9c9" stroke="#242424" stroke-width="2.7" stroke-linejoin="round"/>
<path d="M554.90,471.06 V519.62 M552.20,471.06 H557.60 M552.20,519.62 H557.60" stroke="#2a2a2a" stroke-width="1.15" fill="none"/>
<rect x="595.40" y="598.53" width="28.80" height="6.07" fill="#c9c9c9" stroke="#242424" stroke-width="2.7" stroke-linejoin="round"/>
<path d="M94.9,301.1 V604.6 H636.9" fill="none" stroke="#000" stroke-width="1.4"/>
<line x1="94.9" y1="604.60" x2="99.4" y2="604.60" stroke="#000" stroke-width="1.4"/>
<text x="54.5" y="610.10" font-family="Liberation Sans, Arial, sans-serif" font-size="16" fill="#111">0.0</text>
<line x1="94.9" y1="543.90" x2="99.4" y2="543.90" stroke="#000" stroke-width="1.4"/>
<text x="54.5" y="549.40" font-family="Liberation Sans, Arial, sans-serif" font-size="16" fill="#111">0.1</text>
<line x1="94.9" y1="483.20" x2="99.4" y2="483.20" stroke="#000" stroke-width="1.4"/>
<text x="54.5" y="488.70" font-family="Liberation Sans, Arial, sans-serif" font-size="16" fill="#111">0.2</text>
<line x1="94.9" y1="422.50" x2="99.4" y2="422.50" stroke="#000" stroke-width="1.4"/>
<text x="54.5" y="428.00" font-family="Liberation Sans, Arial, sans-serif" font-size="16" fill="#111">0.3</text>
<line x1="94.9" y1="361.80" x2="99.4" y2="361.80" stroke="#000" stroke-width="1.4"/>
<text x="54.5" y="367.30" font-family="Liberation Sans, Arial, sans-serif" font-size="16" fill="#111">0.4</text>
<line x1="94.9" y1="301.10" x2="99.4" y2="301.10" stroke="#000" stroke-width="1.4"/>
<text x="54.5" y="306.60" font-family="Liberation Sans, Arial, sans-serif" font-size="16" fill="#111">0.5</text>
<line x1="149.10" y1="604.6" x2="149.10" y2="600.1" stroke="#000" stroke-width="1.4"/>
<line x1="203.30" y1="604.6" x2="203.30" y2="600.1" stroke="#000" stroke-width="1.4"/>
<line x1="257.50" y1="604.6" x2="257.50" y2="600.1" stroke="#000" stroke-width="1.4"/>
<line x1="311.70" y1="604.6" x2="311.70" y2="600.1" stroke="#000" stroke-width="1.4"/>
<line x1="365.90" y1="604.6" x2="365.90" y2="600.1" stroke="#000" stroke-width="1.4"/>
<line x1="420.10" y1="604.6" x2="420.10" y2="600.1" stroke="#000" stroke-width="1.4"/>
<line x1="474.30" y1="604.6" x2="474.30" y2="600.1" stroke="#000" stroke-width="1.4"/>
<line x1="528.50" y1="604.6" x2="528.50" y2="600.1" stroke="#000" stroke-width="1.4"/>
<line x1="582.70" y1="604.6" x2="582.70" y2="600.1" stroke="#000" stroke-width="1.4"/>
<line x1="636.90" y1="604.6" x2="636.90" y2="600.1" stroke="#000" stroke-width="1.4"/>
<text transform="translate(48,452.6) rotate(-90)" text-anchor="middle" font-family="Liberation Sans, Arial, sans-serif" font-size="16.2" fill="#111">Tissue Ca (mg/tissue)</text>
<text x="174.80" y="623.00" text-anchor="middle" font-family="Liberation Sans, Arial, sans-serif" font-size="13.4" fill="#111">1</text>
<text x="230.00" y="623.00" text-anchor="middle" font-family="Liberation Sans, Arial, sans-serif" font-size="13.4" fill="#111">3</text>
<text x="284.00" y="623.00" text-anchor="middle" font-family="Liberation Sans, Arial, sans-serif" font-size="13.4" fill="#111">10</text>
<text x="338.00" y="623.00" text-anchor="middle" font-family="Liberation Sans, Arial, sans-serif" font-size="13.4" fill="#111">0.3</text>
<text x="392.80" y="623.00" text-anchor="middle" font-family="Liberation Sans, Arial, sans-serif" font-size="13.4" fill="#111">1</text>
<text x="446.50" y="623.00" text-anchor="middle" font-family="Liberation Sans, Arial, sans-serif" font-size="13.4" fill="#111">3</text>
<text x="500.90" y="623.00" text-anchor="middle" font-family="Liberation Sans, Arial, sans-serif" font-size="13.4" fill="#111">1</text>
<text x="554.90" y="623.00" text-anchor="middle" font-family="Liberation Sans, Arial, sans-serif" font-size="13.4" fill="#111">3</text>
<text x="612.10" y="623.00" text-anchor="middle" font-family="Liberation Sans, Arial, sans-serif" font-size="13.4" fill="#111">10</text>
<text x="120.3" y="638" text-anchor="middle" font-family="Liberation Sans, Arial, sans-serif" font-size="13.4" fill="#111">Control</text>
<text x="634.5" y="623.00" font-family="Liberation Sans, Arial, sans-serif" font-size="13.4" fill="#111">(mg/kg)</text>
<line x1="161.00" y1="633.2" x2="299.80" y2="633.2" stroke="#3a3a3a" stroke-width="1.2"/>
<text x="228.2" y="654.5" text-anchor="middle" font-family="Liberation Sans, Arial, sans-serif" font-size="13.4" fill="#111">Etidronate</text>
<line x1="323.40" y1="633.2" x2="461.50" y2="633.2" stroke="#3a3a3a" stroke-width="1.2"/>
<text x="393" y="654.5" text-anchor="middle" font-family="Liberation Sans, Arial, sans-serif" font-size="13.4" fill="#111">Alendronate</text>
<line x1="487.10" y1="633.2" x2="625.90" y2="633.2" stroke="#3a3a3a" stroke-width="1.2"/>
<text x="555.5" y="654.5" text-anchor="middle" font-family="Liberation Sans, Arial, sans-serif" font-size="13.4" fill="#111">FYB-931</text>
<text x="284.70" y="533.3" text-anchor="middle" font-family="Liberation Serif, Times New Roman, serif" font-size="17.5" fill="#111" stroke="#111" stroke-width="0.3">**</text>
<text x="448.40" y="466.3" text-anchor="middle" font-family="Liberation Serif, Times New Roman, serif" font-size="17.5" fill="#111" stroke="#111" stroke-width="0.3">**</text>
<text x="502.20" y="462.5" text-anchor="middle" font-family="Liberation Serif, Times New Roman, serif" font-size="17.5" fill="#111" stroke="#111" stroke-width="0.3">**</text>
<text x="555.00" y="461.5" text-anchor="middle" font-family="Liberation Serif, Times New Roman, serif" font-size="17.5" fill="#111" stroke="#111" stroke-width="0.3">*</text>
<text x="608.30" y="588.5" text-anchor="middle" font-family="Liberation Serif, Times New Roman, serif" font-size="17.5" fill="#111" stroke="#111" stroke-width="0.3">**</text>
<rect x="104.40" y="819.58" width="29.20" height="178.02" fill="#c9c9c9" stroke="#242424" stroke-width="2.7" stroke-linejoin="round"/>
<path d="M118.50,796.81 V842.35 M115.80,796.81 H121.20 M115.80,842.35 H121.20" stroke="#2a2a2a" stroke-width="1.15" fill="none"/>
<rect x="159.30" y="877.54" width="29.20" height="120.06" fill="#c9c9c9" stroke="#242424" stroke-width="2.7" stroke-linejoin="round"/>
<path d="M173.40,870.29 V884.78 M170.70,870.29 H176.10 M170.70,884.78 H176.10" stroke="#2a2a2a" stroke-width="1.15" fill="none"/>
<rect x="214.20" y="868.74" width="29.20" height="128.86" fill="#c9c9c9" stroke="#242424" stroke-width="2.7" stroke-linejoin="round"/>
<path d="M228.30,851.15 V886.34 M225.60,851.15 H231.00 M225.60,886.34 H231.00" stroke="#2a2a2a" stroke-width="1.15" fill="none"/>
<rect x="269.10" y="965.51" width="29.20" height="32.09" fill="#c9c9c9" stroke="#242424" stroke-width="2.7" stroke-linejoin="round"/>
<path d="M283.20,951.34 V979.69 M280.50,951.34 H285.90 M280.50,979.69 H285.90" stroke="#2a2a2a" stroke-width="1.15" fill="none"/>
<rect x="324.00" y="865.95" width="29.20" height="131.65" fill="#c9c9c9" stroke="#242424" stroke-width="2.7" stroke-linejoin="round"/>
<path d="M338.10,848.87 V883.03 M335.40,848.87 H340.80 M335.40,883.03 H340.80" stroke="#2a2a2a" stroke-width="1.15" fill="none"/>
<rect x="378.90" y="846.70" width="29.20" height="150.90" fill="#c9c9c9" stroke="#242424" stroke-width="2.7" stroke-linejoin="round"/>
<path d="M393.00,833.24 V860.15 M390.30,833.24 H395.70 M390.30,860.15 H395.70" stroke="#2a2a2a" stroke-width="1.15" fill="none"/>
<rect x="433.80" y="907.97" width="29.20" height="89.63" fill="#c9c9c9" stroke="#242424" stroke-width="2.7" stroke-linejoin="round"/>
<path d="M447.90,889.34 V926.60 M445.20,889.34 H450.60 M445.20,926.60 H450.60" stroke="#2a2a2a" stroke-width="1.15" fill="none"/>
<rect x="488.70" y="909.11" width="29.20" height="88.49" fill="#c9c9c9" stroke="#242424" stroke-width="2.7" stroke-linejoin="round"/>
<path d="M502.80,887.37 V930.84 M500.10,887.37 H505.50 M500.10,930.84 H505.50" stroke="#2a2a2a" stroke-width="1.15" fill="none"/>
<rect x="543.60" y="904.45" width="29.20" height="93.15" fill="#c9c9c9" stroke="#242424" stroke-width="2.7" stroke-linejoin="round"/>
<path d="M557.70,883.75 V925.15 M555.00,883.75 H560.40 M555.00,925.15 H560.40" stroke="#2a2a2a" stroke-width="1.15" fill="none"/>
<rect x="598.50" y="994.50" width="29.20" height="3.11" fill="#c9c9c9" stroke="#242424" stroke-width="2.7" stroke-linejoin="round"/>
<path d="M612.60,993.46 V995.53 M609.90,993.46 H615.30 M609.90,995.53 H615.30" stroke="#2a2a2a" stroke-width="1.15" fill="none"/>
<path d="M92,687.1 V997.6 H640.2" fill="none" stroke="#000" stroke-width="1.4"/>
<line x1="92" y1="997.60" x2="96.5" y2="997.60" stroke="#000" stroke-width="1.4"/>
<text x="50.5" y="1003.10" font-family="Liberation Sans, Arial, sans-serif" font-size="16" fill="#111">0.0</text>
<line x1="92" y1="894.10" x2="96.5" y2="894.10" stroke="#000" stroke-width="1.4"/>
<text x="50.5" y="899.60" font-family="Liberation Sans, Arial, sans-serif" font-size="16" fill="#111">0.1</text>
<line x1="92" y1="790.60" x2="96.5" y2="790.60" stroke="#000" stroke-width="1.4"/>
<text x="50.5" y="796.10" font-family="Liberation Sans, Arial, sans-serif" font-size="16" fill="#111">0.2</text>
<line x1="92" y1="687.10" x2="96.5" y2="687.10" stroke="#000" stroke-width="1.4"/>
<text x="50.5" y="692.60" font-family="Liberation Sans, Arial, sans-serif" font-size="16" fill="#111">0.3</text>
<line x1="146.82" y1="997.6" x2="146.82" y2="993.1" stroke="#000" stroke-width="1.4"/>
<line x1="201.64" y1="997.6" x2="201.64" y2="993.1" stroke="#000" stroke-width="1.4"/>
<line x1="256.46" y1="997.6" x2="256.46" y2="993.1" stroke="#000" stroke-width="1.4"/>
<line x1="311.28" y1="997.6" x2="311.28" y2="993.1" stroke="#000" stroke-width="1.4"/>
<line x1="366.10" y1="997.6" x2="366.10" y2="993.1" stroke="#000" stroke-width="1.4"/>
<line x1="420.92" y1="997.6" x2="420.92" y2="993.1" stroke="#000" stroke-width="1.4"/>
<line x1="475.74" y1="997.6" x2="475.74" y2="993.1" stroke="#000" stroke-width="1.4"/>
<line x1="530.56" y1="997.6" x2="530.56" y2="993.1" stroke="#000" stroke-width="1.4"/>
<line x1="585.38" y1="997.6" x2="585.38" y2="993.1" stroke="#000" stroke-width="1.4"/>
<line x1="640.20" y1="997.6" x2="640.20" y2="993.1" stroke="#000" stroke-width="1.4"/>
<text transform="translate(42.7,843) rotate(-90)" text-anchor="middle" font-family="Liberation Sans, Arial, sans-serif" font-size="16.55" fill="#111">Tissue P (mg/tissue)</text>
<text x="173.20" y="1016.00" text-anchor="middle" font-family="Liberation Sans, Arial, sans-serif" font-size="13.4" fill="#111">1</text>
<text x="228.00" y="1016.00" text-anchor="middle" font-family="Liberation Sans, Arial, sans-serif" font-size="13.4" fill="#111">3</text>
<text x="282.50" y="1016.00" text-anchor="middle" font-family="Liberation Sans, Arial, sans-serif" font-size="13.4" fill="#111">10</text>
<text x="338.70" y="1016.00" text-anchor="middle" font-family="Liberation Sans, Arial, sans-serif" font-size="13.4" fill="#111">0.3</text>
<text x="392.20" y="1016.00" text-anchor="middle" font-family="Liberation Sans, Arial, sans-serif" font-size="13.4" fill="#111">1</text>
<text x="446.80" y="1016.00" text-anchor="middle" font-family="Liberation Sans, Arial, sans-serif" font-size="13.4" fill="#111">3</text>
<text x="504.90" y="1016.00" text-anchor="middle" font-family="Liberation Sans, Arial, sans-serif" font-size="13.4" fill="#111">1</text>
<text x="558.40" y="1016.00" text-anchor="middle" font-family="Liberation Sans, Arial, sans-serif" font-size="13.4" fill="#111">3</text>
<text x="615.00" y="1016.00" text-anchor="middle" font-family="Liberation Sans, Arial, sans-serif" font-size="13.4" fill="#111">10</text>
<text x="121.3" y="1031" text-anchor="middle" font-family="Liberation Sans, Arial, sans-serif" font-size="13.4" fill="#111">Control</text>
<text x="639.3" y="1016.00" font-family="Liberation Sans, Arial, sans-serif" font-size="13.4" fill="#111">(mg/kg)</text>
<line x1="158.50" y1="1027.1" x2="299.60" y2="1027.1" stroke="#3a3a3a" stroke-width="1.2"/>
<text x="227.5" y="1048" text-anchor="middle" font-family="Liberation Sans, Arial, sans-serif" font-size="13.4" fill="#111">Etidronate</text>
<line x1="323.50" y1="1026.3" x2="463.90" y2="1026.3" stroke="#3a3a3a" stroke-width="1.2"/>
<text x="394.8" y="1048" text-anchor="middle" font-family="Liberation Sans, Arial, sans-serif" font-size="13.4" fill="#111">Alendronate</text>
<line x1="488.80" y1="1026.6" x2="630.00" y2="1026.6" stroke="#3a3a3a" stroke-width="1.2"/>
<text x="557.9" y="1048" text-anchor="middle" font-family="Liberation Sans, Arial, sans-serif" font-size="13.4" fill="#111">FYB-931</text>
<text x="285.00" y="925.4" text-anchor="middle" font-family="Liberation Serif, Times New Roman, serif" font-size="17.5" fill="#111" stroke="#111" stroke-width="0.3">**</text>
<text x="450.80" y="856.5" text-anchor="middle" font-family="Liberation Serif, Times New Roman, serif" font-size="17.5" fill="#111" stroke="#111" stroke-width="0.3">**</text>
<text x="504.70" y="852.3" text-anchor="middle" font-family="Liberation Serif, Times New Roman, serif" font-size="17.5" fill="#111" stroke="#111" stroke-width="0.3">**</text>
<text x="558.60" y="851.3" text-anchor="middle" font-family="Liberation Serif, Times New Roman, serif" font-size="17.5" fill="#111" stroke="#111" stroke-width="0.3">*</text>
<text x="612.50" y="981.4" text-anchor="middle" font-family="Liberation Serif, Times New Roman, serif" font-size="17.5" fill="#111" stroke="#111" stroke-width="0.3">**</text>
</svg>
</body></html>
